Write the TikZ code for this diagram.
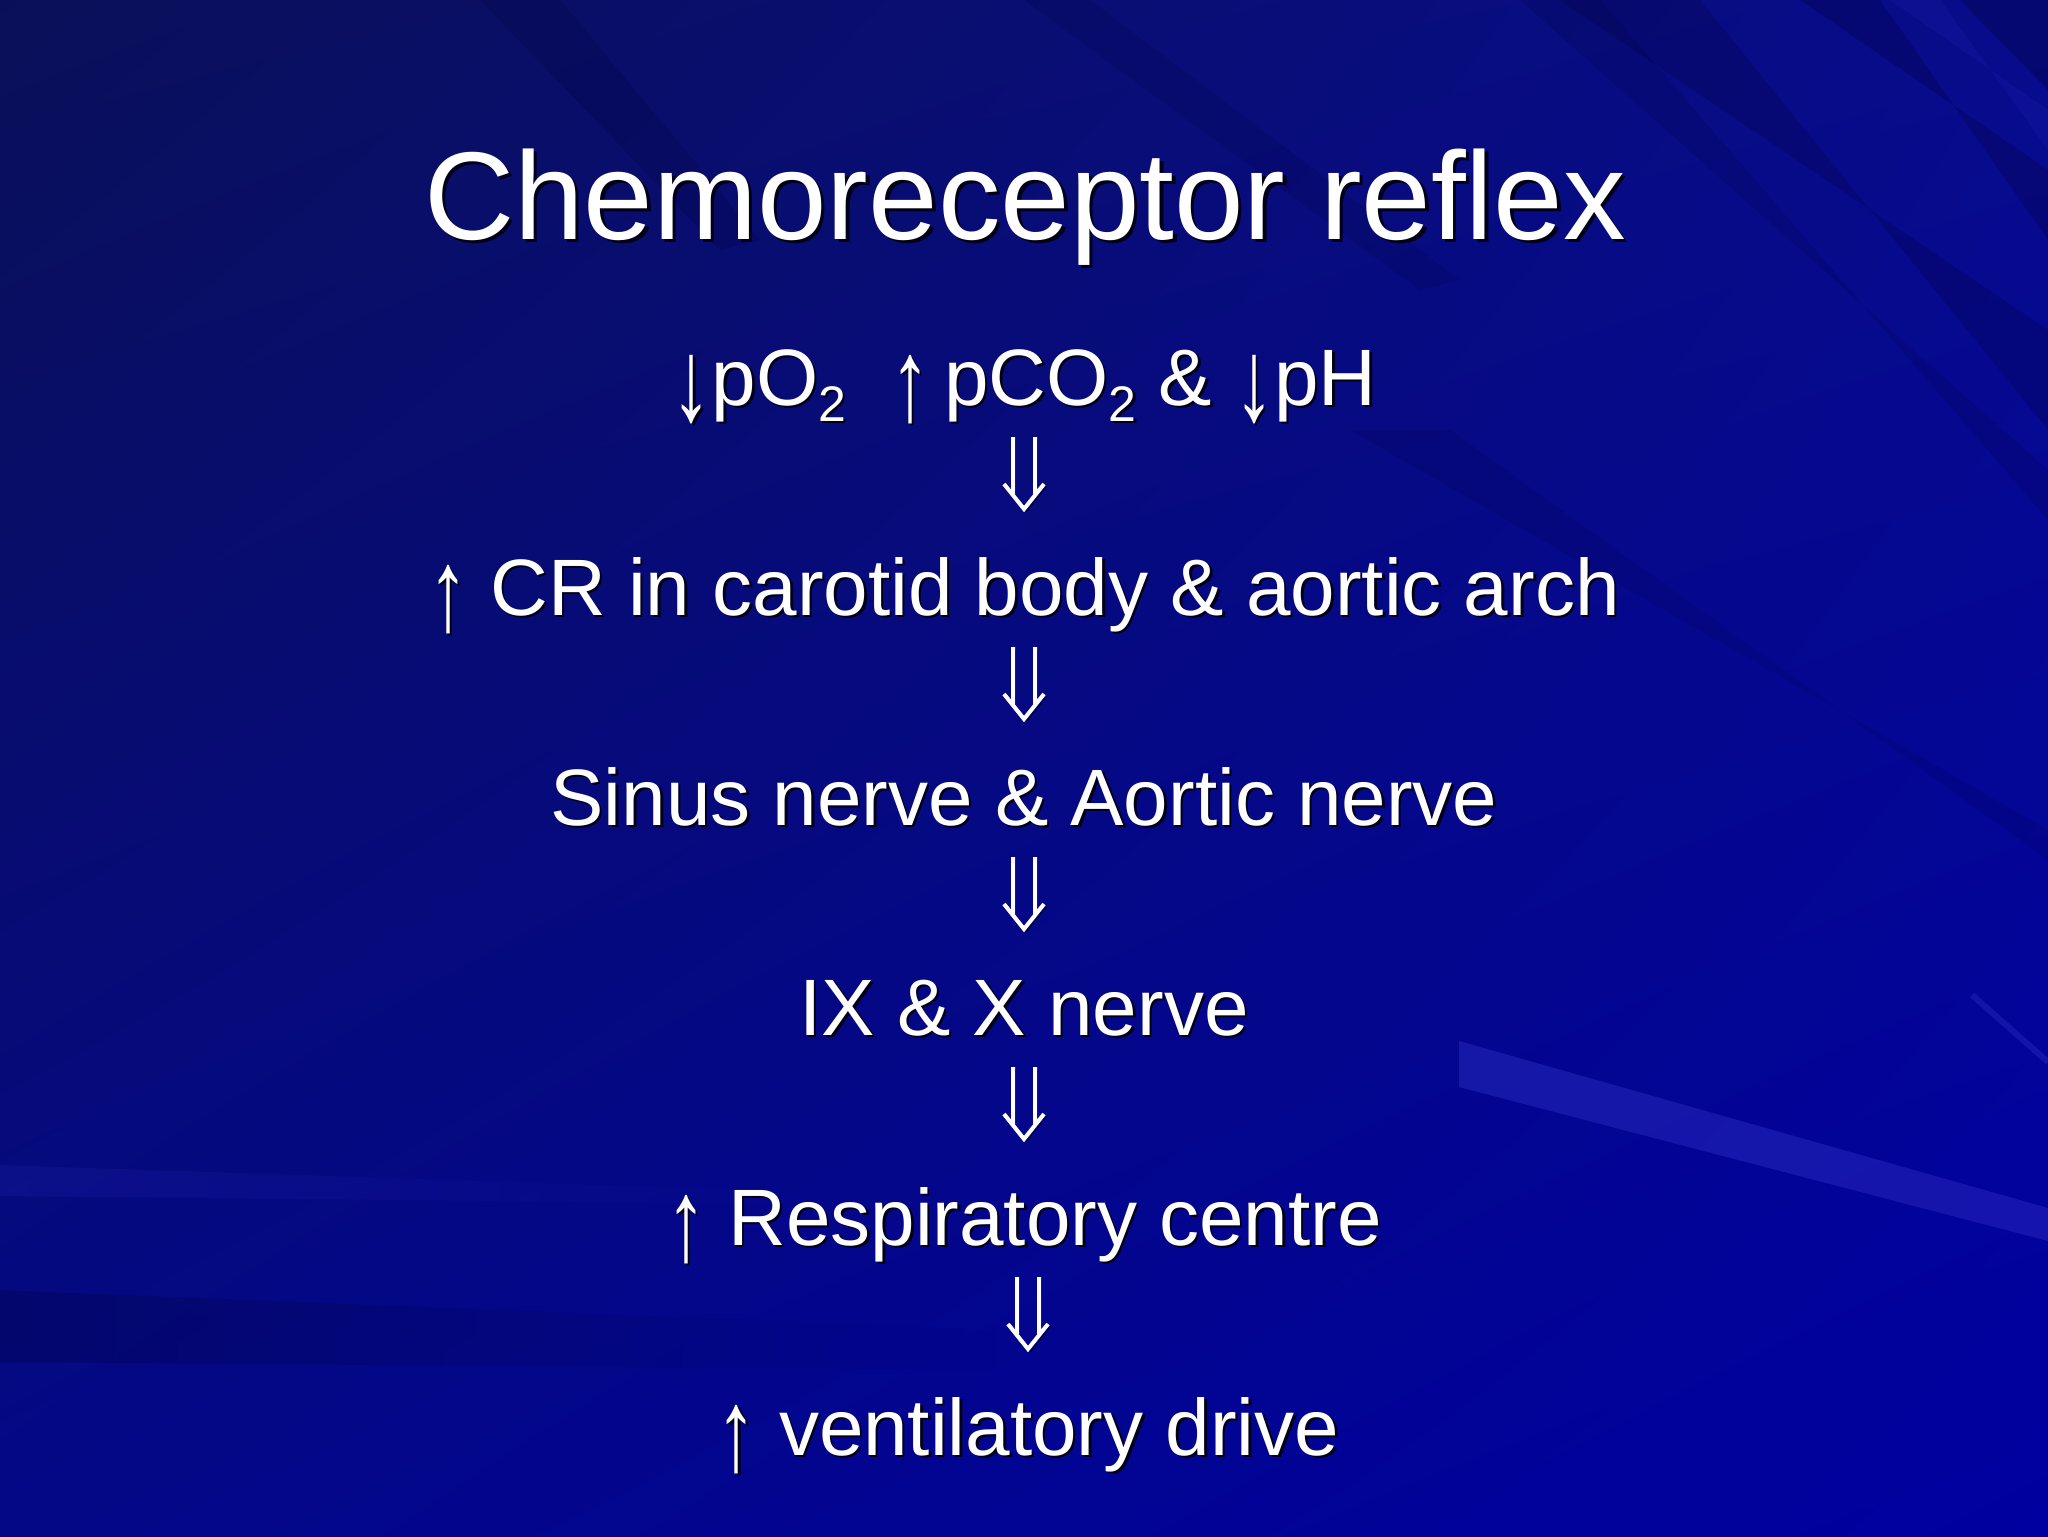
\documentclass[tikz,border=0pt]{standalone}
\usepackage{graphicx}
\usepackage{fontspec}
\setmainfont{Liberation Sans}
\usetikzlibrary{fadings,shadings}
\definecolor{bgUL}{RGB}{10,16,88}
\definecolor{bgUR}{RGB}{8,12,140}
\definecolor{bgLL}{RGB}{4,8,135}
\definecolor{bgLR}{RGB}{0,0,160}
\definecolor{txtshadow}{RGB}{0,0,25}
\definecolor{streaklight}{RGB}{45,45,195}
\definecolor{streakdark}{RGB}{0,0,50}

\newcommand\shd[2][1.25pt]{\rlap{\kern#1\raisebox{-#1}{\color{txtshadow}#2}}#2}
\newcommand\subtwo{\raisebox{-8pt}{\fontsize{25}{25}\selectfont 2}}
\newcommand\uparr{\raisebox{-7.5pt}{\scalebox{1}[1.45]{↑}}}
\newcommand\dnarr{\raisebox{-7.5pt}{\scalebox{1}[1.45]{↓}}}

\tikzset{
  titletext/.style={anchor=base, text=white, inner sep=0pt, font=\fontsize{62.5}{70}\selectfont},
  bodytext/.style={anchor=base, text=white, inner sep=0pt, font=\fontsize{40}{48}\selectfont},
  flowline/.style={draw=white, line width=2pt, line join=miter, line cap=butt,
    preaction={draw=txtshadow, transform canvas={shift={(1.25pt,-1.25pt)}}}},
  darkstreak/.style={fill=streakdark, fill opacity=#1},
  lightstreak/.style={fill=streaklight, fill opacity=#1}
}

% #1 x offset (px), #2 from node, #3 to node
\newcommand\flowarrow[3]{%
  \path ([shift={(#1,32)}]#2.base) coordinate (fa-top)
        ([shift={(0,-106)}]#3.base) coordinate (fa-y);
  \path (fa-top |- fa-y) coordinate (fa-tip);
  \draw[flowline] ([shift={(-11,0)}]fa-top) -- ([shift={(-11,-13.75)}]fa-tip)
                  ([shift={(11,0)}]fa-top) -- ([shift={(11,-13.75)}]fa-tip)
                  ([shift={(-20,-25)}]fa-tip) -- (fa-tip) -- ([shift={(20,-25)}]fa-tip);}

\begin{document}
\begin{tikzpicture}[x=0.5pt,y=-0.5pt]
\useasboundingbox (0,0) rectangle (2048,1536);
% background
\shade[upper left=bgUL, upper right=bgUR, lower left=bgLL, lower right=bgLR] (0,0) rectangle (2048,1536);
% streaks (soft)
\fill[darkstreak=.22] (1560,0) -- (1700,0) -- (2048,430) -- (2048,330) -- cycle;
\fill[darkstreak=.15] (1520,0) -- (1600,0) -- (2048,520) -- (2048,470) -- cycle;
\fill[darkstreak=.25] (1800,0) -- (1880,0) -- (2048,240) -- (2048,170) -- cycle;
\fill[darkstreak=.3] (1960,0) -- (2048,0) -- (2048,90) -- cycle;
\fill[lightstreak=.15] (1890,0) -- (1940,0) -- (2048,150) -- (2048,110) -- cycle;
\fill[darkstreak=.15] (1024,0) -- (1090,0) -- (1460,280) -- (1420,290) -- cycle;
\fill[darkstreak=.12] (1350,430) -- (1450,430) -- (2048,860) -- (2048,830) -- cycle;
\fill[darkstreak=.18] (480,0) -- (560,0) -- (760,240) -- (720,250) -- cycle;
\fill[lightstreak=.45] (1459,1041) -- (1459,1087) -- (2048,1241) -- (2048,1208) -- cycle;
\draw[streaklight, line width=3pt, opacity=.4] (1972,995) -- (2048,1062);
\fill[darkstreak=.25, path fading=east] (0,1290) -- (1000,1330) -- (1000,1370) -- (0,1362) -- cycle;
\fill[lightstreak=.18, path fading=east] (0,1165) -- (900,1195) -- (900,1205) -- (0,1196) -- cycle;

% title and text
\node[titletext] (title) at (1025,239) {\shd[1.75pt]{Chemoreceptor reflex}};
\node[bodytext] (l1) at (1024,405) {\shd{\dnarr pO\subtwo\hspace{22pt}\uparr\hspace{7pt}pCO\subtwo{} \& \dnarr pH}};
\node[bodytext] (l2) at (1024,615) {\shd{\uparr\ CR in carotid body \& aortic arch}};
\node[bodytext] (l3) at (1024,825) {\shd{Sinus nerve \& Aortic nerve}};
\node[bodytext] (l4) at (1024,1035) {\shd{IX \& X nerve}};
\node[bodytext] (l5) at (1024,1245) {\shd{\uparr\ Respiratory centre}};
\node[bodytext] (l6) at (1028,1455) {\shd{\uparr\ ventilatory drive}};

% connectors
\flowarrow{0}{l1}{l2}
\flowarrow{0}{l2}{l3}
\flowarrow{0}{l3}{l4}
\flowarrow{0}{l4}{l5}
\flowarrow{4}{l5}{l6}
\end{tikzpicture}
\end{document}
